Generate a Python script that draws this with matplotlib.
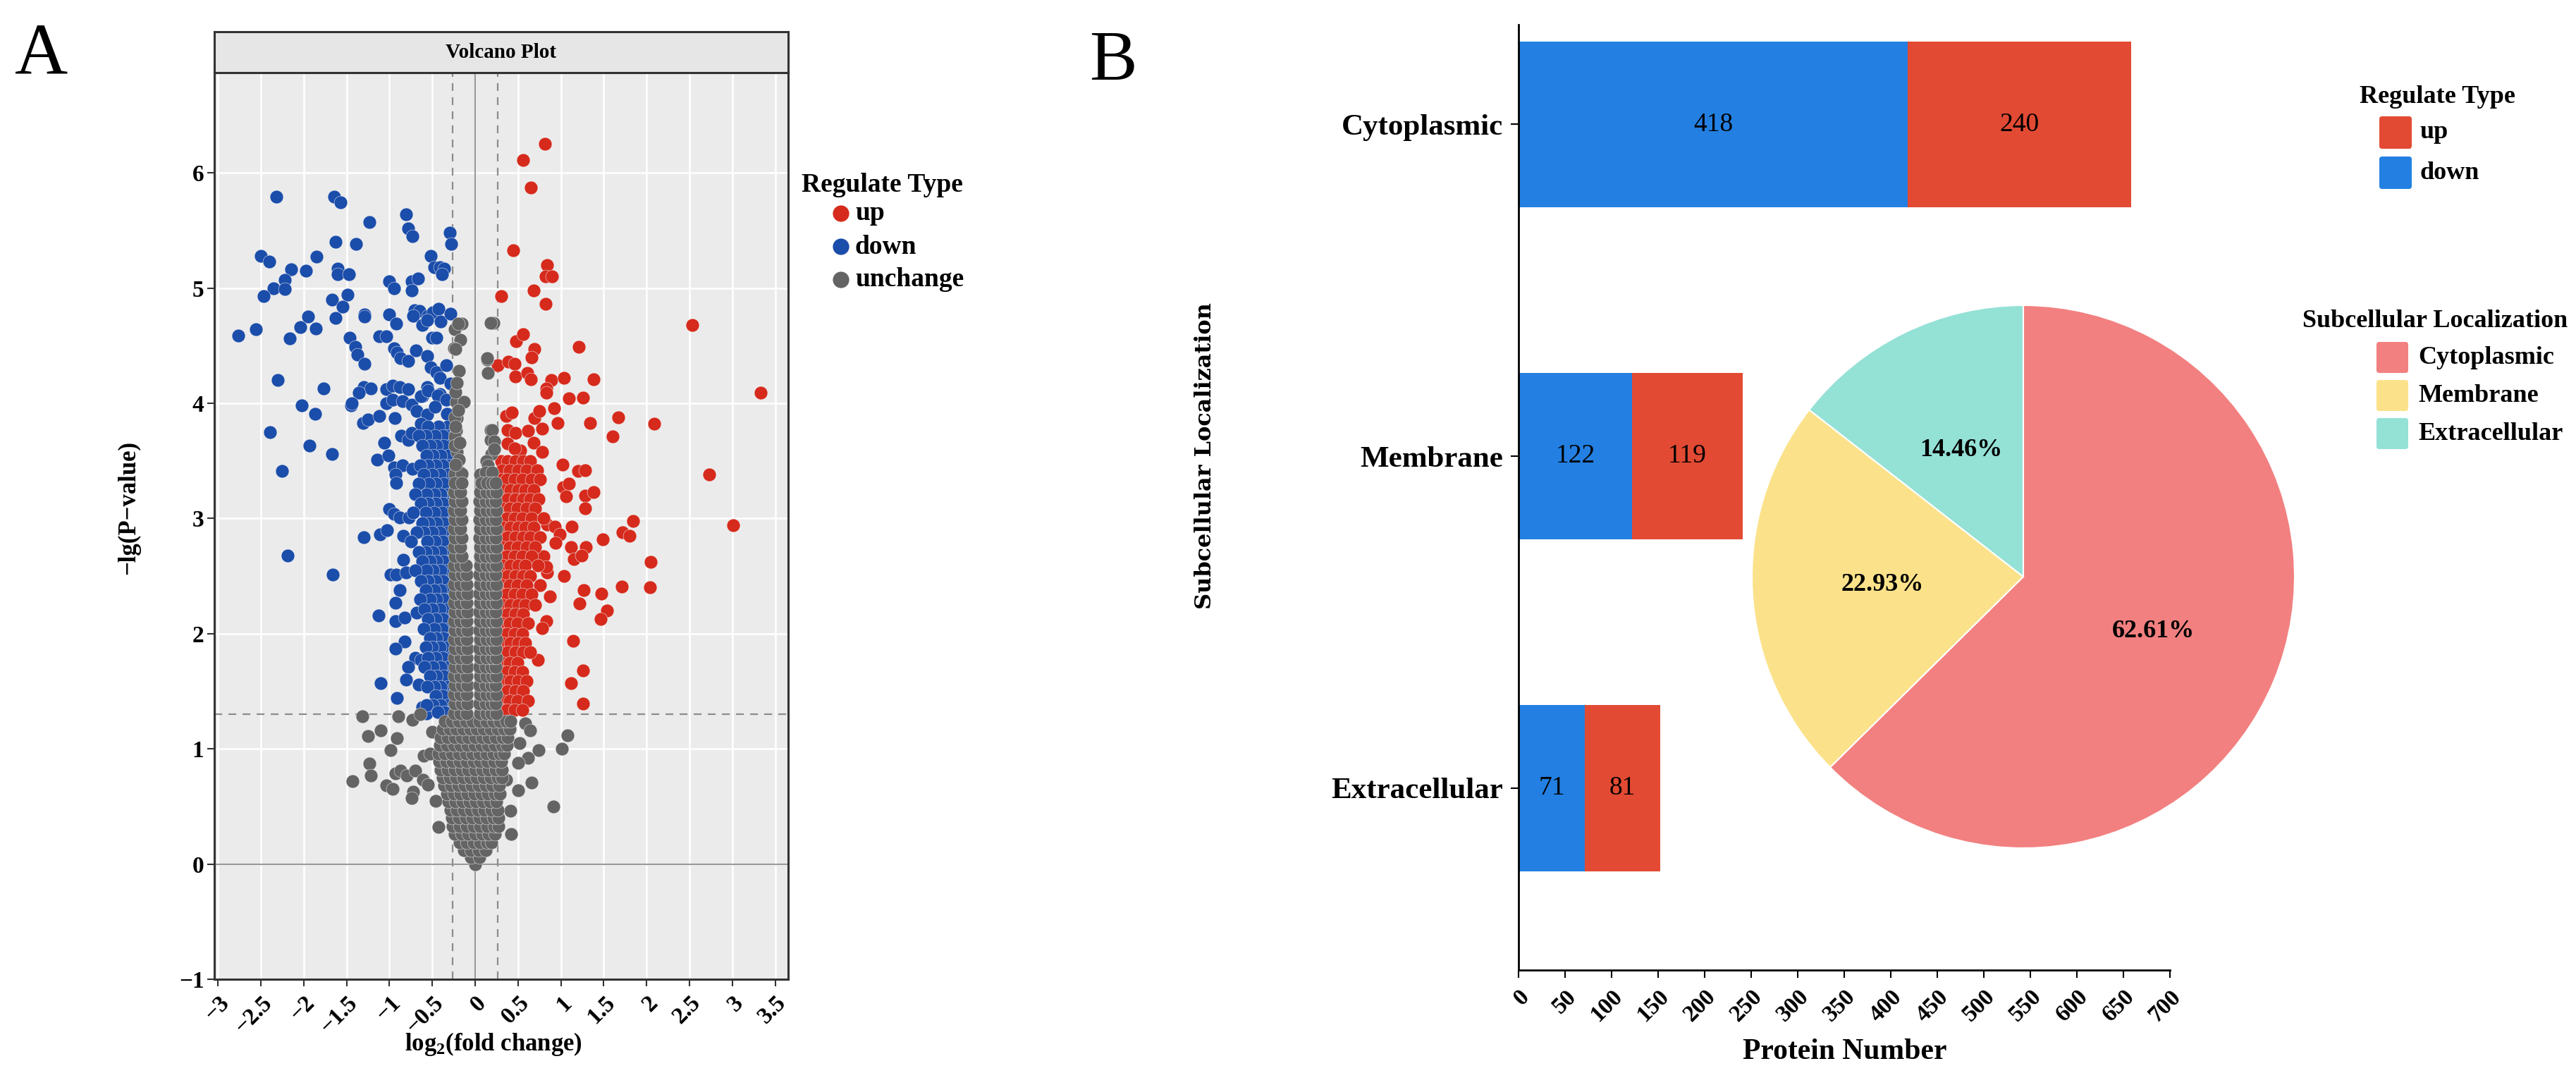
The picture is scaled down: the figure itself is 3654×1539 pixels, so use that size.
import matplotlib
matplotlib.use('Agg')
import matplotlib.pyplot as plt
from matplotlib.patches import FancyBboxPatch

plt.rcParams['font.family'] = ['Liberation Serif', 'DejaVu Serif']
plt.rcParams['mathtext.fontset'] = 'custom'
plt.rcParams['mathtext.rm'] = 'Liberation Serif'
plt.rcParams['mathtext.bf'] = 'Liberation Serif:bold'
plt.rcParams['mathtext.it'] = 'Liberation Serif:italic'

# ---------------- Panel A data ----------------
blue_x = [-2.32, -1.645, -1.57, -0.81, -1.23, -0.78, -0.73, -0.30, -0.28, -1.63, -1.39, -2.50, -2.40, -1.85,
          -2.15, -1.97, -1.60, -1.60, -1.47, -2.22, -2.35, -2.22, -2.47, -0.52, -0.48, -0.41, -0.36, -0.39,
          -1.00, -0.95, -0.74, -0.67, -0.74, -1.49, -1.67, -1.55, -1.29, -1.29, -1.63, -1.95, -2.04, -1.86,
          -2.16, -2.56, -2.76, -1.00, -0.92, -0.71, -0.65, -0.72, -0.55, -0.49, -0.43, -0.62, -0.56, -0.40,
          -0.29, -1.46, -1.12, -1.04, -0.50, -0.45, -1.40, -1.37, -1.29, -0.95, -0.91, -0.87, -0.78, -0.69,
          -0.56, -0.52, -0.45, -0.41, -0.34, -0.29, -2.30, -1.77, -1.30, -1.22, -1.36, -1.04, -0.96, -0.88,
          -0.78, -0.56, -0.62, -0.41,
          -2.02, -1.87, -2.39, -1.93, -1.67, -2.25, -1.30, -2.19, -1.66, -1.45, -1.44, -1.31, -1.25, -1.12,
          -0.94, -1.06, -0.86, -0.78, -0.74, -1.14, -1.01, -0.95, -0.85, -0.93, -0.92, -0.73, -1.00, -0.95,
          -0.88, -0.77, -1.11, -1.03, -0.84, -0.84, -0.99, -0.92, -0.81, -0.88, -0.93, -1.13, -0.93, -0.82,
          -0.68, -0.82, -0.93, -0.70, -0.63, -0.78,
          -1.04, -0.96, -0.85, -0.74, -0.63, -0.55, -0.44, -0.34, -0.68, -0.56, -0.47, -0.33, -0.63,
          -1.10, -0.81, -0.91, -0.66, -0.62, -0.57]
blue_y = [5.79, 5.79, 5.745, 5.64, 5.57, 5.52, 5.45, 5.48, 5.38, 5.40, 5.38, 5.28, 5.23, 5.27,
          5.16, 5.15, 5.17, 5.12, 5.12, 5.07, 5.00, 4.99, 4.93, 5.28, 5.18, 5.18, 5.17, 5.12,
          5.06, 5.00, 5.06, 5.08, 4.98, 4.94, 4.90, 4.84, 4.77, 4.75, 4.74, 4.75, 4.66, 4.65,
          4.56, 4.64, 4.59, 4.77, 4.69, 4.81, 4.80, 4.76, 4.76, 4.79, 4.82, 4.68, 4.72, 4.71,
          4.78, 4.57, 4.58, 4.58, 4.57, 4.57, 4.49, 4.42, 4.34, 4.48, 4.44, 4.39, 4.37, 4.46,
          4.41, 4.31, 4.27, 4.22, 4.33, 4.17, 4.20, 4.13, 4.14, 4.13, 4.09, 4.12, 4.15, 4.14,
          4.12, 4.14, 4.06, 4.08,
          3.98, 3.91, 3.75, 3.63, 3.56, 3.41, 2.84, 2.68, 2.51, 3.98, 4.00, 3.83, 3.86, 3.89,
          3.87, 3.66, 3.72, 3.68, 3.74, 3.51, 3.55, 3.44, 3.46, 3.38, 3.31, 3.43, 3.08, 3.04,
          3.01, 3.01, 2.86, 2.90, 2.85, 2.64, 2.51, 2.51, 2.53, 2.38, 2.27, 2.16, 2.11, 2.14,
          2.18, 1.93, 1.87, 1.79, 1.77, 1.71,
          4.00, 4.03, 4.02, 3.99, 4.06, 4.11, 4.07, 4.03, 3.93, 3.90, 3.97, 3.91, 3.82,
          1.57, 1.60, 1.44, 1.56, 1.36, 1.31]

blue_rows = [
    (3.80, [-0.32, -0.43, -0.55]),
    (3.72, [-0.31, -0.38, -0.47, -0.58, -0.66]),
    (3.63, [-0.30, -0.37, -0.45, -0.53, -0.62]),
    (3.55, [-0.31, -0.40, -0.49, -0.57]),
    (3.46, [-0.30, -0.38, -0.46, -0.55, -0.64]),
    (3.38, [-0.32, -0.41, -0.50, -0.60]),
    (3.30, [-0.30, -0.37, -0.46, -0.54, -0.66]),
    (3.21, [-0.31, -0.40, -0.48, -0.57, -0.70]),
    (3.13, [-0.30, -0.38, -0.46, -0.55, -0.63]),
    (3.05, [-0.31, -0.39, -0.48, -0.58, -0.72]),
    (2.96, [-0.30, -0.37, -0.45, -0.54, -0.62]),
    (2.88, [-0.32, -0.41, -0.50, -0.60, -0.68]),
    (2.80, [-0.30, -0.38, -0.47, -0.56, -0.75]),
    (2.71, [-0.31, -0.40, -0.49, -0.58, -0.66]),
    (2.63, [-0.30, -0.37, -0.45, -0.53, -0.62]),
    (2.55, [-0.32, -0.40, -0.49, -0.57, -0.70]),
    (2.46, [-0.30, -0.38, -0.46, -0.55, -0.63]),
    (2.38, [-0.31, -0.40, -0.48, -0.58]),
    (2.30, [-0.30, -0.37, -0.45, -0.53, -0.64]),
    (2.21, [-0.32, -0.41, -0.50, -0.59]),
    (2.13, [-0.30, -0.38, -0.46, -0.55]),
    (2.04, [-0.31, -0.39, -0.48, -0.60]),
    (1.96, [-0.30, -0.37, -0.45, -0.53]),
    (1.88, [-0.32, -0.41, -0.50, -0.58]),
    (1.79, [-0.30, -0.38, -0.46, -0.55]),
    (1.71, [-0.31, -0.40, -0.49, -0.59]),
    (1.63, [-0.30, -0.37, -0.45, -0.53]),
    (1.54, [-0.32, -0.40, -0.48, -0.56]),
    (1.46, [-0.30, -0.38, -0.46]),
    (1.38, [-0.31, -0.40, -0.49, -0.57]),
    (1.32, [-0.30, -0.36, -0.44]),
]

red_x = [0.81, 0.56, 0.65, 0.44, 0.84, 0.82, 0.90, 0.30, 0.685, 0.82, 2.53, 0.48, 0.56, 0.69, 0.66,
         1.21, 0.26, 0.39, 0.46, 0.47, 0.61, 0.65, 0.89, 1.04, 1.38, 0.83, 0.83, 1.09, 1.26, 3.33,
         0.92, 0.96, 1.34, 1.67, 2.09, 1.60, 1.02, 1.20, 1.28, 2.73, 1.03, 1.09, 1.06, 1.28, 1.38,
         1.28, 1.84, 3.01, 1.13, 1.72, 1.80, 1.49, 1.12, 1.29, 1.15, 1.24, 2.05, 1.04, 0.84, 0.76,
         1.27, 1.71, 2.04, 1.47, 1.22, 1.54, 1.46, 0.87, 0.83, 1.14, 0.73, 1.26, 1.12, 1.26,
         0.36, 0.43, 0.38, 0.47, 0.38, 0.53, 0.46, 0.62, 0.69, 0.75, 0.78, 0.68, 0.78,
         0.84, 0.93, 0.99, 0.94, 0.80, 0.83, 0.78]
red_y = [6.25, 6.11, 5.87, 5.33, 5.20, 5.10, 5.10, 4.93, 4.98, 4.86, 4.68, 4.54, 4.60, 4.47, 4.40,
         4.49, 4.33, 4.36, 4.34, 4.23, 4.26, 4.21, 4.20, 4.22, 4.21, 4.13, 4.09, 4.04, 4.05, 4.09,
         3.96, 3.83, 3.83, 3.88, 3.82, 3.71, 3.47, 3.41, 3.42, 3.38, 3.27, 3.30, 3.19, 3.20, 3.23,
         3.09, 2.98, 2.94, 2.93, 2.88, 2.85, 2.82, 2.75, 2.75, 2.65, 2.68, 2.62, 2.50, 2.53, 2.42,
         2.38, 2.41, 2.40, 2.35, 2.26, 2.20, 2.13, 2.32, 2.11, 1.94, 1.77, 1.68, 1.57, 1.39,
         3.89, 3.92, 3.77, 3.74, 3.65, 3.59, 3.61, 3.76, 3.87, 3.93, 3.78, 3.66, 3.58,
         2.95, 2.93, 2.86, 2.79, 2.67, 2.58, 2.05]

red_rows = [
    (3.50, [0.30, 0.38, 0.47, 0.56, 0.64]),
    (3.42, [0.31, 0.40, 0.50, 0.60, 0.72]),
    (3.34, [0.30, 0.37, 0.46, 0.55, 0.66, 0.76]),
    (3.25, [0.32, 0.41, 0.50, 0.58, 0.68]),
    (3.17, [0.30, 0.38, 0.47, 0.56, 0.64, 0.74]),
    (3.09, [0.31, 0.40, 0.49, 0.60, 0.70]),
    (3.00, [0.30, 0.37, 0.46, 0.55, 0.66, 0.80]),
    (2.92, [0.32, 0.41, 0.50, 0.58, 0.68]),
    (2.84, [0.30, 0.38, 0.47, 0.56, 0.64, 0.76]),
    (2.75, [0.31, 0.40, 0.49, 0.60, 0.70]),
    (2.67, [0.30, 0.37, 0.46, 0.55, 0.66]),
    (2.59, [0.32, 0.41, 0.50, 0.58, 0.73]),
    (2.50, [0.30, 0.38, 0.47, 0.56, 0.64]),
    (2.42, [0.31, 0.40, 0.49, 0.60]),
    (2.34, [0.30, 0.37, 0.46, 0.55, 0.66]),
    (2.25, [0.32, 0.41, 0.50, 0.58, 0.70]),
    (2.17, [0.30, 0.38, 0.47, 0.56]),
    (2.09, [0.31, 0.40, 0.49, 0.62]),
    (2.00, [0.30, 0.37, 0.46, 0.55]),
    (1.92, [0.32, 0.41, 0.50, 0.58]),
    (1.84, [0.30, 0.38, 0.47, 0.56, 0.64]),
    (1.75, [0.31, 0.40, 0.49]),
    (1.67, [0.30, 0.37, 0.46, 0.55]),
    (1.59, [0.32, 0.41, 0.50, 0.60]),
    (1.50, [0.30, 0.38, 0.47, 0.56]),
    (1.42, [0.31, 0.40, 0.49, 0.62]),
    (1.34, [0.30, 0.37, 0.46, 0.55]),
]

gray_x = [-1.32, -0.90, -0.73, -0.64, -1.10, -1.25, -0.91, -0.99, -0.50, -0.60, -0.53, -1.23, -1.22,
          -1.43, -0.93, -0.87, -0.80, -0.70, -1.04, -0.96, -0.61, -0.55, -0.72, -0.74, -0.46, -0.43,
          0.58, 0.64, 1.08, 1.01, 0.74, 0.52, 0.62, 0.50, 0.66, 0.50, 0.91, 0.41, 0.42, 0.36,
          -0.16, -0.24, -0.17, -0.25, -0.19, 0.21, 0.14, 0.15, -0.20, -0.23, -0.17, -0.21, 0.14, 0.18,
          0.18, 0.18, -0.22, -0.13, -0.24, -0.22, -0.24, -0.21, -0.19, -0.17,
          0.20, 0.22, 0.19, 0.13, 0.06, 0.15,
          -0.24, -0.16, -0.23, -0.24, -0.18, -0.23, -0.20, -0.23, -0.21, 0.22, 0.12, 0.20]
gray_y = [1.28, 1.28, 1.25, 1.30, 1.16, 1.11, 1.09, 0.99, 1.15, 0.94, 0.96, 0.87, 0.77,
          0.72, 0.79, 0.81, 0.77, 0.81, 0.68, 0.65, 0.73, 0.69, 0.63, 0.57, 0.55, 0.32,
          1.22, 1.16, 1.12, 1.00, 0.99, 1.05, 0.92, 0.88, 0.71, 0.64, 0.50, 0.46, 0.26, 0.73,
          4.69, 4.64, 4.55, 4.48, 4.28, 4.70, 4.38, 4.26, 4.69, 4.47, 4.00, 3.87, 4.39, 4.70,
          3.77, 3.68, 4.01, 4.01, 3.88, 3.76, 3.71, 3.58, 3.51, 3.40,
          3.77, 3.67, 3.56, 3.50, 3.38, 3.46,
          3.39, 3.39, 3.47, 3.63, 3.66, 3.80, 3.94, 4.10, 4.18, 3.60, 3.40, 3.40]

gray_rows = [
    (0.00, [0.00]),
    (0.06, [-0.05, 0.05]),
    (0.12, [-0.13, -0.05, 0.04, 0.12]),
    (0.19, [-0.18, -0.10, -0.02, 0.06, 0.14, 0.19]),
    (0.26, [-0.24, -0.16, -0.08, 0.00, 0.08, 0.16, 0.23]),
    (0.33, [-0.26, -0.18, -0.10, -0.02, 0.06, 0.14, 0.22, 0.27]),
    (0.40, [-0.27, -0.19, -0.11, -0.03, 0.05, 0.13, 0.21, 0.27]),
    (0.47, [-0.29, -0.21, -0.13, -0.05, 0.03, 0.11, 0.19, 0.26]),
    (0.54, [-0.31, -0.23, -0.15, -0.07, 0.01, 0.09, 0.17, 0.25]),
    (0.61, [-0.33, -0.25, -0.17, -0.09, -0.01, 0.07, 0.15, 0.23, 0.29]),
    (0.68, [-0.36, -0.28, -0.20, -0.12, -0.04, 0.04, 0.12, 0.20, 0.28]),
    (0.75, [-0.38, -0.30, -0.22, -0.14, -0.06, 0.02, 0.10, 0.18, 0.26, 0.31]),
    (0.82, [-0.40, -0.32, -0.24, -0.16, -0.08, 0.00, 0.08, 0.16, 0.24, 0.31]),
    (0.89, [-0.42, -0.34, -0.26, -0.18, -0.10, -0.02, 0.06, 0.14, 0.22, 0.30]),
    (0.96, [-0.43, -0.35, -0.27, -0.19, -0.11, -0.03, 0.05, 0.13, 0.21, 0.29, 0.34]),
    (1.03, [-0.41, -0.33, -0.25, -0.17, -0.09, -0.01, 0.07, 0.15, 0.23, 0.31, 0.37]),
    (1.10, [-0.40, -0.32, -0.24, -0.16, -0.08, 0.00, 0.08, 0.16, 0.24, 0.32, 0.38]),
    (1.17, [-0.38, -0.30, -0.22, -0.14, -0.06, 0.02, 0.10, 0.18, 0.26, 0.34, 0.40]),
    (1.24, [-0.35, -0.27, -0.19, -0.11, -0.03, 0.05, 0.13, 0.21, 0.29, 0.36, 0.41]),
    (1.31, [-0.25, -0.17, -0.10, 0.06, 0.13, 0.19, 0.25]),
    (1.39, [-0.24, -0.16, -0.09, 0.05, 0.12, 0.19, 0.24]),
    (1.47, [-0.25, -0.17, -0.10, 0.06, 0.13, 0.20, 0.25]),
    (1.55, [-0.24, -0.16, -0.09, 0.05, 0.12, 0.19, 0.24]),
    (1.63, [-0.25, -0.17, -0.10, 0.06, 0.13, 0.20, 0.25]),
    (1.71, [-0.24, -0.16, -0.09, 0.05, 0.12, 0.19, 0.24]),
    (1.79, [-0.25, -0.17, -0.10, 0.06, 0.13, 0.20, 0.25]),
    (1.87, [-0.24, -0.16, -0.09, 0.05, 0.12, 0.19, 0.24]),
    (1.95, [-0.25, -0.17, -0.10, 0.06, 0.13, 0.20, 0.25]),
    (2.03, [-0.24, -0.16, -0.09, 0.05, 0.12, 0.19, 0.24]),
    (2.11, [-0.25, -0.17, -0.10, 0.06, 0.13, 0.20, 0.25]),
    (2.19, [-0.24, -0.16, -0.09, 0.05, 0.12, 0.19, 0.24]),
    (2.27, [-0.25, -0.17, -0.10, 0.06, 0.13, 0.20, 0.25]),
    (2.35, [-0.24, -0.16, -0.09, 0.05, 0.12, 0.19, 0.24]),
    (2.43, [-0.25, -0.17, -0.10, 0.06, 0.13, 0.20, 0.25]),
    (2.51, [-0.24, -0.16, -0.10, 0.05, 0.12, 0.19, 0.24]),
    (2.59, [-0.25, -0.17, -0.11, 0.06, 0.13, 0.20, 0.25]),
    (2.67, [-0.24, -0.16, 0.06, 0.12, 0.19, 0.24]),
    (2.75, [-0.25, -0.17, 0.06, 0.13, 0.20, 0.25]),
    (2.83, [-0.24, -0.16, 0.05, 0.12, 0.19, 0.24]),
    (2.91, [-0.25, -0.17, 0.06, 0.13, 0.20, 0.25]),
    (2.99, [-0.24, -0.16, 0.05, 0.12, 0.19, 0.24]),
    (3.07, [-0.25, -0.17, 0.06, 0.13, 0.20, 0.25]),
    (3.15, [-0.24, -0.16, 0.05, 0.12, 0.19, 0.24]),
    (3.23, [-0.25, -0.17, 0.06, 0.13, 0.20, 0.25]),
    (3.31, [-0.24, -0.16, 0.07, 0.14, 0.20, 0.24]),
]

vx_ticks = [-3, -2.5, -2, -1.5, -1, -0.5, 0, 0.5, 1, 1.5, 2, 2.5, 3, 3.5]
vx_labels = ['−3', '−2.5', '−2', '−1.5', '−1', '−0.5', '0', '0.5', '1', '1.5', '2', '2.5', '3', '3.5']
vy_ticks = [-1, 0, 1, 2, 3, 4, 5, 6]
vy_labels = ['−1', '0', '1', '2', '3', '4', '5', '6']
fc_cut = 0.263
p_cut = 1.301

# ---------------- Panel B data ----------------
categories = ['Extracellular', 'Membrane', 'Cytoplasmic']
down_counts = [71, 122, 418]
up_counts = [81, 119, 240]
bx_ticks = [0, 50, 100, 150, 200, 250, 300, 350, 400, 450, 500, 550, 600, 650, 700]
pie_labels = ['Cytoplasmic', 'Membrane', 'Extracellular']
pie_values = [658, 241, 152]

C_UP, C_DOWN, C_UN = '#D62A1C', '#1B4DAA', '#646464'
B_UP, B_DOWN = '#E24A33', '#2380E2'
PIE_COLORS = ['#F28080', '#FBE28A', '#94E1D6']

W, H = 3654, 1539
DPI = 100
fig = plt.figure(figsize=(W / DPI, H / DPI), dpi=DPI)


def flatten(rows):
    xs, ys = [], []
    for y, row in rows:
        for x in row:
            xs.append(x)
            ys.append(y)
    return xs, ys


def frame(l, t, r, b):
    return [l / W, 1 - b / H, (r - l) / W, (b - t) / H]


# ---------------- Volcano ----------------
ax = fig.add_axes(frame(304, 103, 1118, 1389))
ax.set_facecolor('#EBEBEB')
ax.set_xlim(-3.043, 3.651)
ax.set_ylim(-1.0, 6.87)
ax.set_axisbelow(True)
ax.grid(color='white', lw=1.8)
ax.axvline(0, color='#9A9A9A', lw=1.6, zorder=1)
ax.axhline(0, color='#9A9A9A', lw=1.6, zorder=1)
for v in (-fc_cut, fc_cut):
    ax.axvline(v, color='#8C8C8C', lw=1.6, ls=(0, (5, 4)), zorder=1)
ax.axhline(p_cut, color='#8C8C8C', lw=1.6, ls=(0, (5, 4)), zorder=1)

bdx, bdy = flatten(blue_rows)
rdx, rdy = flatten(red_rows)
gdx, gdy = flatten(gray_rows)
kw = dict(s=185, edgecolors='#F4F4F4', linewidths=0.35)
ax.scatter(blue_x + bdx, blue_y + bdy, c=C_DOWN, zorder=3, **kw)
ax.scatter(red_x + rdx, red_y + rdy, c=C_UP, zorder=3, **kw)
ax.scatter(gray_x + gdx, gray_y + gdy, c=C_UN, zorder=4, **kw)

ax.set_xticks(vx_ticks)
ax.set_xticklabels(vx_labels, rotation=45, ha='right', va='top', rotation_mode='anchor',
                   fontweight='bold', fontsize=24)
ax.set_yticks(vy_ticks)
ax.set_yticklabels(vy_labels, fontweight='bold', fontsize=24)
ax.tick_params(axis='both', colors='#333333', length=7, width=1.5, labelcolor='black')
ax.tick_params(axis='x', pad=6)
for s in ax.spines.values():
    s.set_color('#333333')
    s.set_linewidth(2.2)

strip = fig.add_axes(frame(304, 45, 1118, 103))
strip.set_facecolor('#E6E6E6')
strip.set_xticks([])
strip.set_yticks([])
for s in strip.spines.values():
    s.set_color('#333333')
    s.set_linewidth(2.2)
strip.text(0.5, 0.5, 'Volcano Plot', ha='center', va='center', fontweight='bold', fontsize=21,
           transform=strip.transAxes)

# ---------------- Bars ----------------
axb = fig.add_axes(frame(2154, 35, 3078, 1376))
pos = [1, 2, 3]
axb.barh(pos, down_counts, height=0.5, color=B_DOWN)
axb.barh(pos, up_counts, left=down_counts, height=0.5, color=B_UP)
for p, d, u in zip(pos, down_counts, up_counts):
    axb.text(d / 2, p, str(d), ha='center', va='center', fontsize=27)
    axb.text(d + u / 2, p, str(u), ha='center', va='center', fontsize=27)
axb.set_xlim(0, 700)
axb.set_ylim(0.452, 3.30)
axb.set_yticks(pos)
axb.set_yticklabels(categories, fontweight='bold', fontsize=31)
axb.set_xticks(bx_ticks)
axb.set_xticklabels([str(t) for t in bx_ticks], rotation=45, ha='right', va='top',
                    rotation_mode='anchor', fontweight='bold', fontsize=24)
axb.tick_params(axis='both', length=8, width=1.5, color='black')
axb.tick_params(axis='x', pad=8)
axb.tick_params(axis='y', pad=8)
for k in ('top', 'right'):
    axb.spines[k].set_visible(False)
for k in ('left', 'bottom'):
    axb.spines[k].set_linewidth(2)
    axb.spines[k].set_color('black')

# ---------------- Pie ----------------
axp = fig.add_axes(frame(2485, 433, 3255, 1203))
axp.pie(pie_values, colors=PIE_COLORS, startangle=90, counterclock=False,
        autopct='%.2f%%', pctdistance=0.52, radius=1,
        wedgeprops=dict(edgecolor='white', linewidth=1.5),
        textprops=dict(fontsize=26, fontweight='bold'))
axp.set_xlim(-1, 1)
axp.set_ylim(-1, 1)

# ---------------- Overlay (texts & legends, pixel coordinates) ----------------
ov = fig.add_axes([0, 0, 1, 1], facecolor='none')
ov.set_xlim(0, W)
ov.set_ylim(H, 0)
ov.axis('off')

ov.text(21, 105, 'A', fontsize=75, ha='left', va='baseline')
ov.text(1545, 114, 'B', fontsize=73, ha='left', va='baseline')

ov.text(183, 720, '−lg(P−value)', rotation=90, ha='center', va='center', fontweight='bold', fontsize=25)
ov.text(700, 1481, r'$\mathbf{log_2(fold\ change)}$', ha='center', va='center', fontsize=25)

ov.text(1137, 263, 'Regulate Type', ha='left', va='center', fontweight='bold', fontsize=27)
for yy, col, lab in ((303, C_UP, 'up'), (350, C_DOWN, 'down'), (397, C_UN, 'unchange')):
    ov.scatter([1193], [yy], s=280, c=col, edgecolors='none')
    ov.text(1213, yy, lab, ha='left', va='center', fontweight='bold', fontsize=27)

ov.text(2617, 1492, 'Protein Number', ha='center', va='center', fontweight='bold', fontsize=30)
ov.text(1709, 647, 'Subcellular Localization', rotation=90, ha='center', va='center',
        fontweight='bold', fontsize=23, family='DejaVu Serif')

ov.text(3347, 137, 'Regulate Type', ha='left', va='center', fontweight='bold', fontsize=26)
for top, col, lab in ((165, B_UP, 'up'), (222, B_DOWN, 'down')):
    ov.add_patch(FancyBboxPatch((3375, top), 46, 46, boxstyle='round,pad=0,rounding_size=4',
                                facecolor=col, edgecolor='none'))
    ov.text(3432, top + 23, lab, ha='left', va='center', fontweight='bold', fontsize=26)

ov.text(3266, 455, 'Subcellular Localization', ha='left', va='center', fontweight='bold', fontsize=26)
for top, col, lab in zip((485, 539, 593), PIE_COLORS, pie_labels):
    ov.add_patch(FancyBboxPatch((3371, top), 45, 44, boxstyle='round,pad=0,rounding_size=4',
                                facecolor=col, edgecolor='none'))
    ov.text(3430, top + 22, lab, ha='left', va='center', fontweight='bold', fontsize=26)

fig.savefig('out.png', dpi=DPI)
